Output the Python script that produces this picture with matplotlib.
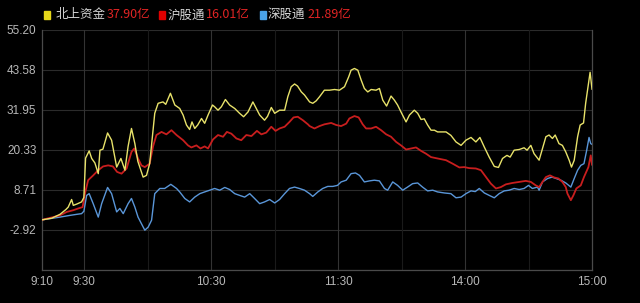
import matplotlib
matplotlib.use("Agg")
import matplotlib.pyplot as plt
from matplotlib.patches import Rectangle

# time axis: trading minutes elapsed since 9:10 (9:30 -> 20, 11:30/13:00 -> 140, 15:00 -> 260)
north_t = [0.0, 4.7, 8.5, 11.3, 12.4, 14.0, 14.8, 16.5, 18.7, 19.8, 20.6, 22.3, 23.5, 25.0, 26.6, 27.4,
           28.8, 31.0, 32.9, 35.3, 37.3, 39.2, 40.7, 42.3, 43.9, 45.3, 47.8, 49.4, 50.9, 53.3, 54.9,
           57.2, 58.5, 60.7, 62.8, 65.1, 66.7, 68.3, 69.8, 70.9, 72.2, 73.6, 75.4, 76.9, 78.5, 80.6,
           81.6, 83.2, 84.8, 86.7, 88.7, 91.1, 93.4, 95.3, 97.4, 99.7, 101.3, 102.9, 105.2, 106.6,
           108.4, 110.0, 112.3, 114.7, 116.2, 117.8, 119.4, 120.8, 122.6, 124.1, 125.7, 126.5, 128.0,
           129.6, 131.2, 133.5, 135.9, 138.3, 140.6, 143.0, 145.0, 146.1, 147.7, 149.3, 150.9, 152.4,
           154.0, 155.6, 157.9, 159.5, 161.1, 162.9, 165.0, 166.6, 168.1, 169.7, 172.1, 173.7, 176.0,
           177.6, 179.2, 180.7, 182.3, 183.9, 185.5, 187.0, 191.0, 193.3, 195.7, 198.1, 200.4, 202.8,
           205.1, 207.0, 209.1, 211.4, 213.8, 215.8, 217.7, 219.8, 221.3, 223.2, 225.6, 227.9, 229.3,
           231.1, 232.6, 235.0, 236.6, 238.2, 239.7, 241.3, 242.6, 244.4, 246.0, 247.6, 249.2, 250.3,
           251.6, 253.2, 254.4, 256.0, 257.0, 258.6, 259.1, 260.0]
north_v = [0.0, 0.5, 1.6, 3.0, 3.7, 5.9, 4.2, 4.6, 5.2, 6.5, 17.9, 20.0, 17.8, 16.5, 13.4, 20.2,
           20.5, 25.2, 23.1, 15.3, 17.8, 14.4, 21.3, 26.5, 22.1, 17.0, 12.4, 12.9, 16.3, 30.9, 33.8,
           34.2, 33.5, 36.7, 33.3, 32.3, 30.4, 27.5, 26.2, 28.4, 26.5, 27.5, 29.4, 28.0, 30.4, 33.3,
           32.8, 31.8, 32.8, 34.9, 33.3, 32.3, 30.9, 29.9, 31.3, 34.2, 32.3, 30.4, 28.9, 30.0,
           32.6, 30.9, 31.8, 31.8, 35.7, 38.6, 39.4, 38.8, 37.1, 36.2, 34.9, 34.2, 33.8,
           34.5, 35.7, 37.6, 37.6, 37.8, 37.6, 38.6, 41.5, 43.4, 43.9, 43.4, 40.5, 38.1,
           37.1, 37.8, 37.6, 38.1, 34.7, 33.0, 35.9, 34.7, 33.3, 31.3, 28.4, 30.4, 31.8,
           30.9, 29.1, 29.3, 27.5, 26.0, 26.0, 25.5, 25.5, 24.5, 22.6, 21.6, 23.1, 23.9,
           22.6, 23.9, 21.1, 18.2, 15.5, 15.2, 17.8, 18.7, 18.2, 20.2, 20.4, 20.9, 20.2,
           21.6, 19.2, 17.3, 20.7, 24.1, 24.6, 23.6, 24.6, 22.1, 21.6, 19.7, 17.3, 15.3,
           17.3, 24.1, 27.5, 28.1, 33.8, 40.5, 42.8, 37.90]

sh_t = [0.0, 8.5, 11.7, 14.8, 17.1, 19.2, 20.3, 21.8, 24.2, 26.6, 28.9, 31.3, 33.5, 35.5, 37.6, 40.0,
        42.3, 43.6, 45.4, 47.0, 48.6, 50.9, 52.5, 54.1, 56.5, 58.8, 61.2, 63.6, 66.7, 69.0, 70.6,
        73.0, 74.9, 76.9, 78.5, 80.8, 83.2, 85.6, 87.4, 89.5, 91.9, 94.2, 96.6, 99.0, 101.6, 103.7,
        106.0, 108.4, 110.4, 112.3, 114.7, 117.0, 118.9, 120.9, 123.3, 125.7, 126.5, 128.8, 131.2,
        133.5, 136.7, 139.1, 141.4, 143.8, 145.3, 147.7, 149.7, 151.6, 153.2, 155.6, 157.9, 160.3,
        162.7, 165.0, 167.4, 169.7, 172.1, 174.5, 176.8, 179.2, 181.5, 183.9, 187.0, 191.0, 194.1,
        197.3, 199.6, 202.0, 205.1, 207.5, 209.9, 212.2, 214.6, 216.9, 219.3, 222.4, 225.6, 228.7,
        231.1, 233.4, 235.0, 236.6, 238.2, 240.1, 242.1, 244.1, 246.0, 247.6, 248.4, 250.0, 251.2,
        252.6, 254.7, 256.2, 258.3, 259.4, 260.0]
sh_v = [0.0, 1.3, 2.3, 2.8, 3.3, 3.7, 7.6, 11.5, 12.9, 14.4, 15.5, 15.8, 15.5, 13.9, 13.4, 14.9,
        19.7, 20.7, 17.8, 15.8, 15.3, 16.3, 21.3, 24.6, 25.5, 24.8, 26.0, 24.6, 23.1, 21.6, 21.0,
        21.6, 20.7, 21.3, 20.7, 23.3, 24.6, 24.1, 25.5, 25.0, 23.6, 23.1, 24.6, 24.3, 25.8, 24.8,
        25.3, 27.0, 25.8, 26.5, 27.0, 28.4, 29.7, 29.9, 28.9, 27.7, 27.2, 26.5, 27.2,
        27.7, 28.1, 27.5, 27.2, 27.9, 29.4, 30.1, 29.7, 27.7, 26.5, 26.5, 27.0, 26.0,
        24.8, 24.1, 22.6, 21.6, 20.4, 20.7, 21.0, 20.0, 19.2, 18.2, 17.8, 17.3, 16.3,
        15.2, 15.3, 15.0, 14.9, 14.4, 12.4, 10.5, 9.1, 9.5, 10.3, 10.7, 11.0, 11.3,
        11.0, 10.0, 9.5, 11.0, 12.4, 12.9, 12.3, 12.0, 11.0, 9.5, 7.6, 5.7, 7.1,
        9.1, 10.0, 12.4, 15.3, 18.7, 16.01]

sz_t = [0.0, 8.5, 13.2, 16.4, 18.7, 19.8, 21.1, 22.3, 24.2, 26.6, 28.2, 31.0, 32.9, 35.3, 36.8, 38.4,
        40.7, 42.3, 43.9, 45.4, 47.0, 48.6, 50.2, 51.8, 53.3, 55.7, 58.0, 60.9, 63.6, 65.1, 67.5,
        69.8, 72.2, 74.6, 76.9, 79.3, 81.6, 84.0, 86.4, 88.7, 91.1, 93.4, 95.8, 98.2, 100.5, 102.9,
        105.2, 107.6, 110.0, 112.3, 114.7, 117.0, 119.4, 121.7, 124.1, 126.5, 128.0, 130.4, 132.7,
        135.1, 137.5, 139.7, 141.4, 143.8, 146.1, 148.2, 150.1, 152.4, 154.8, 157.1, 159.5, 161.9,
        163.4, 165.8, 168.1, 170.5, 172.8, 175.2, 177.6, 179.9, 182.3, 184.7, 187.0, 190.2, 193.3,
        195.7, 198.1, 200.4, 202.8, 204.8, 206.7, 209.1, 211.4, 213.8, 216.1, 218.5, 220.8, 223.2,
        225.6, 227.9, 230.0, 231.8, 234.2, 235.0, 236.6, 239.0, 241.1, 243.0, 245.3, 247.6, 250.0,
        251.6, 253.2, 254.7, 256.2, 257.5, 258.6, 259.4, 260.0]
sz_v = [0.0, 0.8, 1.3, 1.6, 1.8, 2.5, 7.1, 7.6, 4.7, 0.8, 4.7, 9.4, 7.6, 2.3, 3.3, 1.8,
        4.7, 6.2, 3.7, 0.8, -1.1, -3.0, -2.1, -0.1, 7.6, 9.1, 9.1, 10.3, 9.1, 8.1, 6.2,
        5.2, 6.6, 7.6, 8.1, 8.6, 9.1, 8.6, 9.4, 8.8, 7.6, 7.1, 6.6, 7.6, 6.2, 4.7,
        5.2, 5.9, 4.9, 5.9, 7.6, 9.1, 9.5, 9.1, 8.6, 7.6, 6.8, 8.1, 9.1,
        9.7, 9.7, 10.0, 11.0, 11.5, 13.4, 13.6, 12.9, 11.0, 11.3, 11.5, 11.3, 9.1,
        8.6, 11.0, 10.0, 8.6, 9.5, 10.5, 10.7, 9.5, 8.4, 8.6, 8.1, 7.8, 7.6,
        6.4, 6.6, 7.6, 8.4, 8.2, 9.1, 7.8, 7.1, 6.4, 7.6, 8.4, 8.6, 9.1,
        8.8, 9.1, 10.0, 9.1, 9.5, 8.6, 11.0, 12.0, 12.4, 12.0, 11.5, 10.7, 9.5,
        12.0, 14.4, 15.8, 16.3, 20.2, 23.9, 22.1, 21.89]

y_ticks = [-14.54, -2.92, 8.71, 20.33, 31.95, 43.58, 55.20]
y_labels = ["", "-2.92", "8.71", "20.33", "31.95", "43.58", "55.20"]
x_ticks = [0, 20, 80, 140, 200, 260]
x_labels = ["9:10", "9:30", "10:30", "11:30", "14:00", "15:00"]
x_minor_grid = [50, 110, 170, 230]

legend_names = ["北上资金", "沪股通", "深股通"]
legend_values = ["37.90亿", "16.01亿", "21.89亿"]

W, H = 640, 303
fig = plt.figure(figsize=(W / 100, H / 100), dpi=100, facecolor="black")
ax = fig.add_axes([42 / W, 1 - 270 / H, (592 - 42) / W, (270 - 29.5) / H])
ax.set_facecolor("black")

# grid
for y in y_ticks:
    ax.axhline(y, color="#2b2b2b", lw=0.8, zorder=0)
for x in x_ticks[1:-1]:
    ax.axvline(x, color="#333333", lw=0.8, zorder=0)
for x in x_minor_grid:
    ax.axvline(x, color="#1a1a1a", lw=0.8, zorder=0)

ax.plot(sz_t, sz_v, color="#5a96d8", lw=1.0, zorder=2)
ax.plot(sh_t, sh_v, color="#c81e1e", lw=1.3, zorder=3)
ax.plot(north_t, north_v, color="#e8e26a", lw=1.0, zorder=4)

ax.set_xlim(0, 260)
ax.set_ylim(-14.54, 55.20)
ax.set_xticks(x_ticks)
ax.set_xticklabels(x_labels)
ax.set_yticks(y_ticks)
ax.set_yticklabels(y_labels)
ax.tick_params(length=0, colors="#b8b8b8", labelsize=8.5, pad=4)
for lab in ax.get_xticklabels() + ax.get_yticklabels():
    lab.set_fontfamily("Liberation Sans")
for side in ["left", "bottom", "right"]:
    ax.spines[side].set_color("#4a4a4a")
    ax.spines[side].set_linewidth(0.9)
ax.spines["top"].set_visible(False)

# legend header
sq_colors = ["#e6d81a", "#e00000", "#4aa3e8"]
sq_x = [43.5, 158.5, 259.5]
name_x = [56, 168, 268]
val_x = [107, 206, 307]
ty = 1 - 14.8 / H
fam = ["Noto Sans CJK SC", "DejaVu Sans"]
for i in range(3):
    fig.patches.append(Rectangle((sq_x[i] / W, 1 - 18.5 / H), 6.5 / W, 7.5 / H,
                                 transform=fig.transFigure, color=sq_colors[i]))
    fig.text(name_x[i] / W, ty, legend_names[i], color="#d4d4d4", fontsize=9,
             family=fam, va="center", ha="left")
    fig.text(val_x[i] / W, ty, legend_values[i], color="#e02424", fontsize=9,
             family=fam, va="center", ha="left")

fig.savefig("out.png", dpi=100, facecolor="black")
